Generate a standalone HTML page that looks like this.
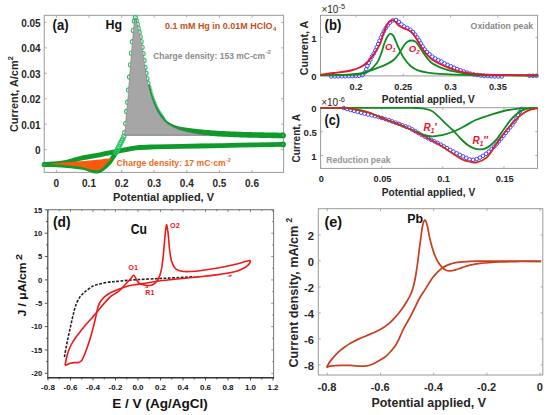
<!DOCTYPE html>
<html><head><meta charset="utf-8"><title>Figure</title>
<style>
html,body{margin:0;padding:0;background:#fff;}
body{width:550px;height:415px;overflow:hidden;font-family:"Liberation Sans",sans-serif;}
svg{display:block;}
</style></head><body>
<svg width="550" height="415" viewBox="0 0 550 415">
<rect x="0" y="0" width="550" height="415" fill="#fff"/>
<rect x="44.2" y="15.3" width="239.4" height="157.1" fill="none" stroke="#999" stroke-width="1"/>
<line x1="56.4" y1="172.4" x2="56.4" y2="170" stroke="#999" stroke-width="0.8" />
<line x1="56.4" y1="15.3" x2="56.4" y2="17.7" stroke="#999" stroke-width="0.8" />
<line x1="89" y1="172.4" x2="89" y2="170" stroke="#999" stroke-width="0.8" />
<line x1="89" y1="15.3" x2="89" y2="17.7" stroke="#999" stroke-width="0.8" />
<line x1="121.6" y1="172.4" x2="121.6" y2="170" stroke="#999" stroke-width="0.8" />
<line x1="121.6" y1="15.3" x2="121.6" y2="17.7" stroke="#999" stroke-width="0.8" />
<line x1="154.2" y1="172.4" x2="154.2" y2="170" stroke="#999" stroke-width="0.8" />
<line x1="154.2" y1="15.3" x2="154.2" y2="17.7" stroke="#999" stroke-width="0.8" />
<line x1="186.8" y1="172.4" x2="186.8" y2="170" stroke="#999" stroke-width="0.8" />
<line x1="186.8" y1="15.3" x2="186.8" y2="17.7" stroke="#999" stroke-width="0.8" />
<line x1="219.4" y1="172.4" x2="219.4" y2="170" stroke="#999" stroke-width="0.8" />
<line x1="219.4" y1="15.3" x2="219.4" y2="17.7" stroke="#999" stroke-width="0.8" />
<line x1="252" y1="172.4" x2="252" y2="170" stroke="#999" stroke-width="0.8" />
<line x1="252" y1="15.3" x2="252" y2="17.7" stroke="#999" stroke-width="0.8" />
<line x1="44.2" y1="149.6" x2="46.6" y2="149.6" stroke="#999" stroke-width="0.8" />
<line x1="283.6" y1="149.6" x2="281.2" y2="149.6" stroke="#999" stroke-width="0.8" />
<line x1="44.2" y1="124.16" x2="46.6" y2="124.16" stroke="#999" stroke-width="0.8" />
<line x1="283.6" y1="124.16" x2="281.2" y2="124.16" stroke="#999" stroke-width="0.8" />
<line x1="44.2" y1="98.72" x2="46.6" y2="98.72" stroke="#999" stroke-width="0.8" />
<line x1="283.6" y1="98.72" x2="281.2" y2="98.72" stroke="#999" stroke-width="0.8" />
<line x1="44.2" y1="73.28" x2="46.6" y2="73.28" stroke="#999" stroke-width="0.8" />
<line x1="283.6" y1="73.28" x2="281.2" y2="73.28" stroke="#999" stroke-width="0.8" />
<line x1="44.2" y1="47.84" x2="46.6" y2="47.84" stroke="#999" stroke-width="0.8" />
<line x1="283.6" y1="47.84" x2="281.2" y2="47.84" stroke="#999" stroke-width="0.8" />
<line x1="44.2" y1="22.4" x2="46.6" y2="22.4" stroke="#999" stroke-width="0.8" />
<line x1="283.6" y1="22.4" x2="281.2" y2="22.4" stroke="#999" stroke-width="0.8" />
<rect x="320.5" y="15.3" width="217.1" height="60.6" fill="none" stroke="#999" stroke-width="1"/>
<line x1="356" y1="75.9" x2="356" y2="73.7" stroke="#999" stroke-width="0.8" />
<line x1="356" y1="15.3" x2="356" y2="17.5" stroke="#999" stroke-width="0.8" />
<line x1="403.3" y1="75.9" x2="403.3" y2="73.7" stroke="#999" stroke-width="0.8" />
<line x1="403.3" y1="15.3" x2="403.3" y2="17.5" stroke="#999" stroke-width="0.8" />
<line x1="450.6" y1="75.9" x2="450.6" y2="73.7" stroke="#999" stroke-width="0.8" />
<line x1="450.6" y1="15.3" x2="450.6" y2="17.5" stroke="#999" stroke-width="0.8" />
<line x1="497.9" y1="75.9" x2="497.9" y2="73.7" stroke="#999" stroke-width="0.8" />
<line x1="497.9" y1="15.3" x2="497.9" y2="17.5" stroke="#999" stroke-width="0.8" />
<line x1="320.5" y1="75.5" x2="322.7" y2="75.5" stroke="#999" stroke-width="0.8" />
<line x1="537.6" y1="75.5" x2="535.4" y2="75.5" stroke="#999" stroke-width="0.8" />
<line x1="320.5" y1="37.4" x2="322.7" y2="37.4" stroke="#999" stroke-width="0.8" />
<line x1="537.6" y1="37.4" x2="535.4" y2="37.4" stroke="#999" stroke-width="0.8" />
<rect x="320.6" y="107.7" width="216.9" height="60.7" fill="none" stroke="#999" stroke-width="1"/>
<line x1="320.6" y1="168.4" x2="320.6" y2="166.2" stroke="#999" stroke-width="0.8" />
<line x1="320.6" y1="107.7" x2="320.6" y2="109.9" stroke="#999" stroke-width="0.8" />
<line x1="381.7" y1="168.4" x2="381.7" y2="166.2" stroke="#999" stroke-width="0.8" />
<line x1="381.7" y1="107.7" x2="381.7" y2="109.9" stroke="#999" stroke-width="0.8" />
<line x1="442.8" y1="168.4" x2="442.8" y2="166.2" stroke="#999" stroke-width="0.8" />
<line x1="442.8" y1="107.7" x2="442.8" y2="109.9" stroke="#999" stroke-width="0.8" />
<line x1="503.9" y1="168.4" x2="503.9" y2="166.2" stroke="#999" stroke-width="0.8" />
<line x1="503.9" y1="107.7" x2="503.9" y2="109.9" stroke="#999" stroke-width="0.8" />
<line x1="320.6" y1="107.7" x2="322.8" y2="107.7" stroke="#999" stroke-width="0.8" />
<line x1="537.5" y1="107.7" x2="535.3" y2="107.7" stroke="#999" stroke-width="0.8" />
<line x1="320.6" y1="131.6" x2="322.8" y2="131.6" stroke="#999" stroke-width="0.8" />
<line x1="537.5" y1="131.6" x2="535.3" y2="131.6" stroke="#999" stroke-width="0.8" />
<line x1="320.6" y1="155.5" x2="322.8" y2="155.5" stroke="#999" stroke-width="0.8" />
<line x1="537.5" y1="155.5" x2="535.3" y2="155.5" stroke="#999" stroke-width="0.8" />
<rect x="318.3" y="208.7" width="224.5" height="166.3" fill="none" stroke="#999" stroke-width="1"/>
<line x1="327.3" y1="375" x2="327.3" y2="372.6" stroke="#999" stroke-width="0.8" />
<line x1="327.3" y1="208.7" x2="327.3" y2="211.1" stroke="#999" stroke-width="0.8" />
<line x1="380.5" y1="375" x2="380.5" y2="372.6" stroke="#999" stroke-width="0.8" />
<line x1="380.5" y1="208.7" x2="380.5" y2="211.1" stroke="#999" stroke-width="0.8" />
<line x1="433.7" y1="375" x2="433.7" y2="372.6" stroke="#999" stroke-width="0.8" />
<line x1="433.7" y1="208.7" x2="433.7" y2="211.1" stroke="#999" stroke-width="0.8" />
<line x1="486.9" y1="375" x2="486.9" y2="372.6" stroke="#999" stroke-width="0.8" />
<line x1="486.9" y1="208.7" x2="486.9" y2="211.1" stroke="#999" stroke-width="0.8" />
<line x1="540.1" y1="375" x2="540.1" y2="372.6" stroke="#999" stroke-width="0.8" />
<line x1="540.1" y1="208.7" x2="540.1" y2="211.1" stroke="#999" stroke-width="0.8" />
<line x1="318.3" y1="234.9" x2="320.7" y2="234.9" stroke="#999" stroke-width="0.8" />
<line x1="542.8" y1="234.9" x2="540.4" y2="234.9" stroke="#999" stroke-width="0.8" />
<line x1="318.3" y1="260.9" x2="320.7" y2="260.9" stroke="#999" stroke-width="0.8" />
<line x1="542.8" y1="260.9" x2="540.4" y2="260.9" stroke="#999" stroke-width="0.8" />
<line x1="318.3" y1="286.9" x2="320.7" y2="286.9" stroke="#999" stroke-width="0.8" />
<line x1="542.8" y1="286.9" x2="540.4" y2="286.9" stroke="#999" stroke-width="0.8" />
<line x1="318.3" y1="312.9" x2="320.7" y2="312.9" stroke="#999" stroke-width="0.8" />
<line x1="542.8" y1="312.9" x2="540.4" y2="312.9" stroke="#999" stroke-width="0.8" />
<line x1="318.3" y1="338.9" x2="320.7" y2="338.9" stroke="#999" stroke-width="0.8" />
<line x1="542.8" y1="338.9" x2="540.4" y2="338.9" stroke="#999" stroke-width="0.8" />
<line x1="318.3" y1="364.9" x2="320.7" y2="364.9" stroke="#999" stroke-width="0.8" />
<line x1="542.8" y1="364.9" x2="540.4" y2="364.9" stroke="#999" stroke-width="0.8" />
<path d="M44.5,164.4 C45.75,164.33 49.42,164.17 52,164 C54.58,163.83 57.67,163.67 60,163.4 C62.33,163.13 63.88,162.88 66,162.4 C68.12,161.92 69.77,161.28 72.7,160.5 C75.63,159.72 79.05,158.65 83.6,157.7 C88.15,156.75 94.23,155.88 100,154.8 C105.77,153.72 112.13,152.35 118.2,151.2 C124.27,150.05 130.35,148.62 136.4,147.9 C142.45,147.18 143.9,147.22 154.5,146.9 C165.1,146.58 185.75,146.28 200,146 C214.25,145.72 226.17,145.47 240,145.2 C253.83,144.93 275.83,144.53 283,144.4" fill="none" stroke="#0f9a2c" stroke-width="4.8" stroke-linecap="round"/>
<path d="M44.5,164.6 C46.42,164.67 52.58,164.85 56,165 C59.42,165.15 61.6,165.23 65,165.5 C68.4,165.77 73.3,166.25 76.4,166.6 C79.5,166.95 81.5,167.17 83.6,167.6 C85.7,168.03 87.3,168.65 89,169.2 C90.7,169.75 92.27,170.6 93.8,170.9 C95.33,171.2 96.57,171.52 98.2,171 C99.83,170.48 101.78,169.17 103.6,167.8 C105.42,166.43 107.45,164.68 109.1,162.8 C110.75,160.92 112.22,158.5 113.5,156.5 C114.78,154.5 116.25,151.75 116.8,150.8" fill="none" stroke="#0f9a2c" stroke-width="4.6" stroke-linecap="round"/>
<circle cx="115.94" cy="152.39" r="2.1" fill="none" stroke="#2bc468" stroke-width="1.1"/>
<circle cx="116.9" cy="150.61" r="2.1" fill="none" stroke="#2bc468" stroke-width="1.1"/>
<circle cx="117.88" cy="148.63" r="2.1" fill="none" stroke="#2bc468" stroke-width="1.1"/>
<circle cx="118.84" cy="146.57" r="2.1" fill="none" stroke="#2bc468" stroke-width="1.1"/>
<circle cx="119.82" cy="144.57" r="2.1" fill="none" stroke="#2bc468" stroke-width="1.1"/>
<circle cx="120.8" cy="142.74" r="2.1" fill="none" stroke="#2bc468" stroke-width="1.1"/>
<circle cx="121.79" cy="140.85" r="2.1" fill="none" stroke="#2bc468" stroke-width="1.1"/>
<circle cx="122.77" cy="138.78" r="2.1" fill="none" stroke="#2bc468" stroke-width="1.1"/>
<circle cx="123.75" cy="136.47" r="2.1" fill="none" stroke="#2bc468" stroke-width="1.1"/>
<circle cx="124.71" cy="132.63" r="2.1" fill="none" stroke="#2bc468" stroke-width="1.1"/>
<circle cx="125.67" cy="123.54" r="2.1" fill="none" stroke="#2bc468" stroke-width="1.1"/>
<circle cx="126.64" cy="111.51" r="2.1" fill="none" stroke="#2bc468" stroke-width="1.1"/>
<circle cx="127.6" cy="102.27" r="2.1" fill="none" stroke="#2bc468" stroke-width="1.1"/>
<circle cx="128.57" cy="89.97" r="2.1" fill="none" stroke="#2bc468" stroke-width="1.1"/>
<circle cx="129.54" cy="76.98" r="2.1" fill="none" stroke="#2bc468" stroke-width="1.1"/>
<circle cx="130.5" cy="64.86" r="2.1" fill="none" stroke="#2bc468" stroke-width="1.1"/>
<circle cx="131.46" cy="53.17" r="2.1" fill="none" stroke="#2bc468" stroke-width="1.1"/>
<circle cx="132.42" cy="41.72" r="2.1" fill="none" stroke="#2bc468" stroke-width="1.1"/>
<circle cx="133.37" cy="30.42" r="2.1" fill="none" stroke="#2bc468" stroke-width="1.1"/>
<circle cx="134.34" cy="21.12" r="2.1" fill="none" stroke="#2bc468" stroke-width="1.1"/>
<circle cx="135.29" cy="17.72" r="2.1" fill="none" stroke="#2bc468" stroke-width="1.1"/>
<circle cx="136.27" cy="20.67" r="2.1" fill="none" stroke="#2bc468" stroke-width="1.1"/>
<circle cx="137.25" cy="24.3" r="2.1" fill="none" stroke="#2bc468" stroke-width="1.1"/>
<circle cx="138.23" cy="28.38" r="2.1" fill="none" stroke="#2bc468" stroke-width="1.1"/>
<circle cx="139.18" cy="32.5" r="2.1" fill="none" stroke="#2bc468" stroke-width="1.1"/>
<circle cx="140.16" cy="36.83" r="2.1" fill="none" stroke="#2bc468" stroke-width="1.1"/>
<circle cx="141.12" cy="41.63" r="2.1" fill="none" stroke="#2bc468" stroke-width="1.1"/>
<circle cx="142.09" cy="47.28" r="2.1" fill="none" stroke="#2bc468" stroke-width="1.1"/>
<circle cx="143.08" cy="53.55" r="2.1" fill="none" stroke="#2bc468" stroke-width="1.1"/>
<circle cx="144.05" cy="60.43" r="2.1" fill="none" stroke="#2bc468" stroke-width="1.1"/>
<circle cx="145.01" cy="67.49" r="2.1" fill="none" stroke="#2bc468" stroke-width="1.1"/>
<circle cx="145.96" cy="73.27" r="2.1" fill="none" stroke="#2bc468" stroke-width="1.1"/>
<circle cx="146.93" cy="78.57" r="2.1" fill="none" stroke="#2bc468" stroke-width="1.1"/>
<circle cx="147.91" cy="83.3" r="2.1" fill="none" stroke="#2bc468" stroke-width="1.1"/>
<circle cx="148.88" cy="87.42" r="2.1" fill="none" stroke="#2bc468" stroke-width="1.1"/>
<circle cx="149.87" cy="91.27" r="2.1" fill="none" stroke="#2bc468" stroke-width="1.1"/>
<circle cx="150.86" cy="94.79" r="2.1" fill="none" stroke="#2bc468" stroke-width="1.1"/>
<circle cx="151.84" cy="97.92" r="2.1" fill="none" stroke="#2bc468" stroke-width="1.1"/>
<circle cx="152.86" cy="100.88" r="2.1" fill="none" stroke="#2bc468" stroke-width="1.1"/>
<circle cx="153.84" cy="103.51" r="2.1" fill="none" stroke="#2bc468" stroke-width="1.1"/>
<circle cx="154.87" cy="106.01" r="2.1" fill="none" stroke="#2bc468" stroke-width="1.1"/>
<circle cx="155.86" cy="108.22" r="2.1" fill="none" stroke="#2bc468" stroke-width="1.1"/>
<circle cx="156.82" cy="110.16" r="2.1" fill="none" stroke="#2bc468" stroke-width="1.1"/>
<circle cx="157.79" cy="111.89" r="2.1" fill="none" stroke="#2bc468" stroke-width="1.1"/>
<circle cx="158.79" cy="113.49" r="2.1" fill="none" stroke="#2bc468" stroke-width="1.1"/>
<circle cx="159.84" cy="115.05" r="2.1" fill="none" stroke="#2bc468" stroke-width="1.1"/>
<circle cx="160.86" cy="116.51" r="2.1" fill="none" stroke="#2bc468" stroke-width="1.1"/>
<circle cx="161.89" cy="117.94" r="2.1" fill="none" stroke="#2bc468" stroke-width="1.1"/>
<circle cx="162.89" cy="119.34" r="2.1" fill="none" stroke="#2bc468" stroke-width="1.1"/>
<path d="M147.14,85.32 L147.28,85.81 L147.43,86.4 L147.62,87.1 L147.82,87.88 L148.04,88.73 L148.28,89.64 L148.53,90.6 L148.79,91.59 L149.05,92.61 L149.32,93.64 L149.59,94.67 L149.87,95.69 L150.15,96.69 L150.42,97.65 L150.7,98.56 L150.97,99.42 L151.23,100.22 L151.5,101.02 L151.77,101.81 L152.04,102.58 L152.32,103.35 L152.6,104.11 L152.88,104.86 L153.17,105.6 L153.46,106.33 L153.76,107.06 L154.06,107.77 L154.37,108.47 L154.68,109.17 L155,109.86 L155.33,110.54 L155.65,111.21 L155.99,111.87 L156.33,112.52 L156.68,113.17 L157.03,113.8 L157.38,114.43 L157.75,115.05 L158.11,115.67 L158.49,116.27 L158.86,116.86 L159.25,117.44 L159.64,118.01 L160.03,118.57 L160.43,119.12 L160.83,119.65 L161.24,120.18 L161.65,120.68 L162.06,121.17 L162.47,121.64 L162.88,122.1 L163.29,122.54 L163.71,122.98 L164.14,123.4 L164.57,123.81 L165.01,124.21 L165.45,124.6 L165.91,124.98 L166.38,125.35 L166.87,125.72 L167.36,126.08 L167.87,126.43 L168.4,126.78 L168.94,127.13 L169.49,127.47 L170.05,127.8 L170.61,128.13 L171.19,128.45 L171.78,128.76 L172.38,129.07 L172.99,129.37 L173.62,129.67 L174.27,129.95 L174.93,130.24 L175.62,130.51 L176.32,130.78 L177.05,131.04 L177.8,131.3 L178.57,131.55 L179.37,131.79 L180.2,132.03 L181.05,132.26 L181.91,132.47 L182.79,132.68 L183.68,132.88 L184.59,133.07 L185.53,133.22 L186.48,133.36 L187.44,133.49 L188.43,133.63 L189.43,133.75 L190.44,133.88 L191.47,134 L192.52,134.13 L193.59,134.25 L194.68,134.38 L195.79,134.51 L196.92,134.64 L198.07,134.76 L199.24,134.88 L200.43,135.01 L201.64,135.12 L202.87,135.24 L204.12,135.36 L205.39,135.47 L206.68,135.58 L207.99,135.69 L209.31,135.8 L210.66,135.9 L212.02,136 L213.41,136.1 L214.81,136.19 L216.25,136.29 L217.72,136.38 L219.22,136.47 L220.74,136.55 L222.3,136.64 L223.87,136.72 L225.46,136.8 L227.06,136.87 L228.67,136.95 L230.28,137.02 L231.9,137.09 L233.52,137.15 L235.13,137.22 L236.73,137.28 L238.32,137.34 L239.9,137.4 L241.48,137.45 L243.09,137.5 L244.71,137.55 L246.34,137.6 L247.98,137.64 L249.62,137.68 L251.25,137.72 L252.88,137.76 L254.49,137.79 L256.08,137.82 L257.65,137.85 L259.19,137.88 L260.69,137.91 L262.15,137.94 L263.57,137.97 L264.94,138 L266.29,138.03 L267.65,138.05 L269.01,138.08 L270.37,138.1 L271.7,138.13 L273.01,138.15 L274.28,138.17 L275.52,138.19 L276.71,138.21 L277.83,138.22 L278.9,138.24 L279.89,138.25 L280.8,138.27 L281.62,138.28 L282.34,138.29 L282.95,138.3 L283.05,132.7 L282.43,132.69 L281.7,132.68 L280.88,132.67 L279.97,132.65 L278.98,132.64 L277.92,132.62 L276.79,132.61 L275.61,132.59 L274.37,132.57 L273.1,132.55 L271.79,132.53 L270.46,132.5 L269.12,132.48 L267.76,132.45 L266.41,132.43 L265.06,132.4 L263.69,132.37 L262.27,132.34 L260.8,132.32 L259.3,132.29 L257.76,132.26 L256.19,132.22 L254.61,132.19 L253,132.16 L251.38,132.12 L249.75,132.08 L248.12,132.04 L246.49,132 L244.87,131.96 L243.26,131.91 L241.67,131.86 L240.1,131.8 L238.53,131.74 L236.95,131.68 L235.35,131.62 L233.75,131.56 L232.14,131.49 L230.53,131.42 L228.92,131.35 L227.32,131.28 L225.73,131.2 L224.15,131.12 L222.59,131.04 L221.05,130.96 L219.54,130.88 L218.05,130.79 L216.6,130.7 L215.19,130.61 L213.8,130.51 L212.43,130.41 L211.08,130.31 L209.75,130.21 L208.44,130.11 L207.15,130 L205.88,129.89 L204.63,129.78 L203.4,129.67 L202.18,129.55 L200.99,129.43 L199.82,129.31 L198.67,129.19 L197.53,129.07 L196.42,128.95 L195.32,128.82 L194.24,128.69 L193.18,128.57 L192.14,128.44 L191.12,128.32 L190.13,128.2 L189.15,128.07 L188.2,127.95 L187.27,127.82 L186.37,127.68 L185.48,127.54 L184.62,127.44 L183.78,127.33 L182.95,127.21 L182.16,127.09 L181.38,126.95 L180.63,126.81 L179.89,126.65 L179.18,126.49 L178.5,126.32 L177.83,126.14 L177.19,125.96 L176.57,125.77 L175.97,125.57 L175.38,125.37 L174.8,125.16 L174.24,124.94 L173.7,124.72 L173.16,124.48 L172.62,124.24 L172.1,123.99 L171.57,123.73 L171.06,123.47 L170.56,123.2 L170.08,122.93 L169.61,122.66 L169.16,122.39 L168.73,122.11 L168.31,121.82 L167.9,121.52 L167.49,121.22 L167.1,120.91 L166.7,120.58 L166.31,120.24 L165.92,119.89 L165.53,119.52 L165.14,119.14 L164.75,118.74 L164.35,118.32 L163.95,117.88 L163.56,117.44 L163.17,116.97 L162.77,116.5 L162.39,116 L162,115.5 L161.62,114.98 L161.24,114.44 L160.86,113.9 L160.49,113.34 L160.12,112.78 L159.76,112.2 L159.4,111.61 L159.04,111.01 L158.69,110.41 L158.35,109.79 L158.01,109.17 L157.67,108.54 L157.34,107.9 L157.02,107.24 L156.7,106.58 L156.38,105.91 L156.07,105.22 L155.77,104.53 L155.46,103.82 L155.16,103.1 L154.87,102.37 L154.57,101.64 L154.28,100.89 L154,100.13 L153.71,99.36 L153.43,98.58 L153.15,97.77 L152.86,96.9 L152.57,95.97 L152.27,95 L151.97,94.01 L151.68,92.99 L151.39,91.98 L151.11,90.97 L150.85,89.98 L150.6,89.03 L150.36,88.12 L150.14,87.27 L149.94,86.49 L149.76,85.79 L149.59,85.18 L149.46,84.68Z" fill="#0f9a2c" stroke="none" stroke-width="1" />
<path d="M124.2,135 L124.24,134.77 L124.29,134.5 L124.34,134.21 L124.4,133.88 L124.47,133.53 L124.54,133.15 L124.61,132.74 L124.69,132.31 L124.77,131.85 L124.85,131.37 L124.93,130.87 L125.01,130.34 L125.08,129.78 L125.16,129.21 L125.23,128.62 L125.3,128 L125.36,127.36 L125.43,126.68 L125.49,125.96 L125.55,125.22 L125.6,124.45 L125.66,123.65 L125.72,122.84 L125.77,122 L125.83,121.15 L125.89,120.29 L125.95,119.41 L126.02,118.53 L126.08,117.65 L126.15,116.76 L126.22,115.88 L126.3,115 L126.38,114.13 L126.46,113.25 L126.55,112.38 L126.64,111.51 L126.73,110.63 L126.83,109.74 L126.92,108.85 L127.02,107.94 L127.12,107.02 L127.22,106.08 L127.31,105.12 L127.41,104.15 L127.51,103.15 L127.61,102.13 L127.71,101.08 L127.8,100 L127.89,98.89 L127.99,97.74 L128.08,96.56 L128.17,95.35 L128.27,94.12 L128.36,92.87 L128.45,91.6 L128.54,90.31 L128.64,89.02 L128.73,87.72 L128.82,86.42 L128.92,85.12 L129.01,83.82 L129.11,82.53 L129.2,81.26 L129.3,80 L129.4,78.75 L129.5,77.49 L129.6,76.22 L129.7,74.95 L129.8,73.68 L129.9,72.41 L130,71.14 L130.1,69.88 L130.2,68.61 L130.3,67.35 L130.4,66.1 L130.5,64.86 L130.6,63.63 L130.7,62.4 L130.8,61.2 L130.9,60 L131,58.82 L131.09,57.64 L131.19,56.47 L131.28,55.31 L131.38,54.16 L131.47,53.02 L131.57,51.88 L131.66,50.75 L131.76,49.63 L131.85,48.52 L131.94,47.41 L132.03,46.31 L132.13,45.22 L132.22,44.14 L132.31,43.07 L132.4,42 L132.49,40.93 L132.58,39.85 L132.67,38.76 L132.76,37.68 L132.85,36.59 L132.94,35.51 L133.03,34.44 L133.12,33.39 L133.21,32.35 L133.29,31.34 L133.38,30.36 L133.47,29.4 L133.55,28.49 L133.64,27.61 L133.72,26.78 L133.8,26 L133.88,25.25 L133.96,24.52 L134.03,23.81 L134.11,23.12 L134.18,22.46 L134.25,21.83 L134.32,21.23 L134.39,20.67 L134.47,20.14 L134.54,19.66 L134.61,19.22 L134.68,18.83 L134.76,18.49 L134.84,18.2 L134.92,17.97 L135,17.8 L135.08,17.7 L135.17,17.66 L135.25,17.69 L135.34,17.78 L135.43,17.92 L135.51,18.1 L135.6,18.34 L135.69,18.61 L135.79,18.91 L135.88,19.24 L135.98,19.59 L136.08,19.96 L136.18,20.34 L136.28,20.73 L136.39,21.12 L136.5,21.5 L136.61,21.89 L136.73,22.32 L136.85,22.76 L136.98,23.23 L137.1,23.72 L137.23,24.23 L137.36,24.75 L137.49,25.29 L137.63,25.85 L137.76,26.42 L137.9,27 L138.04,27.59 L138.18,28.18 L138.32,28.79 L138.46,29.39 L138.6,30 L138.74,30.61 L138.89,31.23 L139.03,31.86 L139.18,32.5 L139.33,33.15 L139.48,33.81 L139.63,34.48 L139.79,35.16 L139.94,35.85 L140.09,36.55 L140.25,37.26 L140.4,37.98 L140.55,38.72 L140.7,39.46 L140.85,40.23 L141,41 L141.15,41.79 L141.29,42.6 L141.44,43.43 L141.59,44.27 L141.73,45.12 L141.88,45.99 L142.02,46.86 L142.17,47.75 L142.31,48.64 L142.46,49.54 L142.6,50.45 L142.74,51.36 L142.88,52.27 L143.02,53.18 L143.16,54.09 L143.3,55 L143.44,55.91 L143.57,56.83 L143.69,57.75 L143.82,58.68 L143.94,59.61 L144.07,60.55 L144.19,61.49 L144.31,62.44 L144.44,63.38 L144.56,64.33 L144.69,65.28 L144.82,66.23 L144.96,67.17 L145.1,68.12 L145.25,69.06 L145.4,70 L145.56,70.94 L145.72,71.88 L145.88,72.83 L146.05,73.77 L146.21,74.72 L146.38,75.67 L146.56,76.62 L146.74,77.56 L146.92,78.51 L147.1,79.45 L147.29,80.39 L147.49,81.32 L147.68,82.25 L147.88,83.17 L148.09,84.09 L148.3,85 L148.51,85.91 L148.73,86.81 L148.96,87.72 L149.18,88.63 L149.41,89.53 L149.65,90.43 L149.89,91.33 L150.13,92.22 L150.38,93.1 L150.63,93.98 L150.88,94.84 L151.14,95.7 L151.4,96.54 L151.66,97.38 L151.93,98.2 L152.2,99 L152.47,99.79 L152.75,100.57 L153.03,101.35 L153.31,102.11 L153.59,102.86 L153.88,103.61 L154.17,104.34 L154.47,105.06 L154.77,105.78 L155.07,106.48 L155.38,107.17 L155.69,107.86 L156.01,108.53 L156.34,109.2 L156.67,109.85 L157,110.5 L157.34,111.14 L157.69,111.77 L158.04,112.39 L158.39,113 L158.75,113.6 L159.12,114.2 L159.49,114.78 L159.86,115.36 L160.24,115.92 L160.62,116.47 L161.01,117.01 L161.4,117.53 L161.8,118.05 L162.19,118.55 L162.6,119.03 L163,119.5 L163.4,119.95 L163.81,120.39 L164.21,120.81 L164.61,121.22 L165.01,121.61 L165.42,121.99 L165.83,122.36 L166.25,122.71 L166.68,123.06 L167.11,123.4 L167.56,123.73 L168.02,124.05 L168.49,124.37 L168.97,124.68 L169.48,124.99 L170,125.3 L170.53,125.6 L171.07,125.9 L171.62,126.19 L172.17,126.48 L172.74,126.8 L173.31,127.11 L173.9,127.41 L174.5,127.71 L175.12,128 L175.75,128.29 L176.41,128.57 L177.08,128.85 L177.77,129.12 L178.49,129.39 L179.23,129.65 L180,129.91 L180.79,130.16 L181.6,130.41 L182.43,130.64 L183.28,130.87 L184.15,131.09 L185.04,131.3 L185.95,131.52 L186.88,131.72 L187.82,131.93 L188.79,132.13 L189.78,132.33 L190.78,132.53 L191.81,132.74 L192.85,132.94 L193.92,133.15 L195,133.36 L196.1,133.57 L197.23,133.78 L198.37,133.99 L199.53,134.2 L200.71,134.41 L201.91,134.62 L203.13,134.83 L204.38,135.04 L205.63,135.25 L206.91,135.3 L124.2,135.3Z" fill="#a6a6a6" stroke="#6a6a6a" stroke-width="0.5" />
<line x1="124.2" y1="135.3" x2="206.91" y2="135.3" stroke="#8a8a8a" stroke-width="0.8" />
<path d="M50,164.2 C48.4,163.88 53.07,163.65 56.4,163.3 C59.73,162.95 65.23,162.5 70,162.1 C74.77,161.7 80,161.33 85,160.9 C90,160.47 95.67,159.87 100,159.5 C104.33,159.13 109.75,158.18 111,158.7 C112.25,159.22 108.67,161.28 107.5,162.6 C106.33,163.92 105.25,165.43 104,166.6 C102.75,167.77 101.2,168.97 100,169.6 C98.8,170.23 98.47,170.42 96.8,170.4 C95.13,170.38 92.2,169.98 90,169.5 C87.8,169.02 85.87,168.03 83.6,167.5 C81.33,166.97 79.33,166.68 76.4,166.3 C73.47,165.92 70.4,165.55 66,165.2 C61.6,164.85 51.6,164.52 50,164.2Z" fill="#fb5a0c" stroke="none" stroke-width="1" />
<text x="40.6" y="154.1" font-family="Liberation Sans, sans-serif" font-size="10" font-weight="bold" font-style="normal" fill="#262626" text-anchor="end" >0</text>
<text x="40.6" y="128.66" font-family="Liberation Sans, sans-serif" font-size="10" font-weight="bold" font-style="normal" fill="#262626" text-anchor="end" >0.01</text>
<text x="40.6" y="103.22" font-family="Liberation Sans, sans-serif" font-size="10" font-weight="bold" font-style="normal" fill="#262626" text-anchor="end" >0.02</text>
<text x="40.6" y="77.78" font-family="Liberation Sans, sans-serif" font-size="10" font-weight="bold" font-style="normal" fill="#262626" text-anchor="end" >0.03</text>
<text x="40.6" y="52.34" font-family="Liberation Sans, sans-serif" font-size="10" font-weight="bold" font-style="normal" fill="#262626" text-anchor="end" >0.04</text>
<text x="40.6" y="26.9" font-family="Liberation Sans, sans-serif" font-size="10" font-weight="bold" font-style="normal" fill="#262626" text-anchor="end" >0.05</text>
<text x="56.4" y="186.5" font-family="Liberation Sans, sans-serif" font-size="10" font-weight="bold" font-style="normal" fill="#262626" text-anchor="middle" >0</text>
<text x="89" y="186.5" font-family="Liberation Sans, sans-serif" font-size="10" font-weight="bold" font-style="normal" fill="#262626" text-anchor="middle" >0.1</text>
<text x="121.6" y="186.5" font-family="Liberation Sans, sans-serif" font-size="10" font-weight="bold" font-style="normal" fill="#262626" text-anchor="middle" >0.2</text>
<text x="154.2" y="186.5" font-family="Liberation Sans, sans-serif" font-size="10" font-weight="bold" font-style="normal" fill="#262626" text-anchor="middle" >0.3</text>
<text x="186.8" y="186.5" font-family="Liberation Sans, sans-serif" font-size="10" font-weight="bold" font-style="normal" fill="#262626" text-anchor="middle" >0.4</text>
<text x="219.4" y="186.5" font-family="Liberation Sans, sans-serif" font-size="10" font-weight="bold" font-style="normal" fill="#262626" text-anchor="middle" >0.5</text>
<text x="252" y="186.5" font-family="Liberation Sans, sans-serif" font-size="10" font-weight="bold" font-style="normal" fill="#262626" text-anchor="middle" >0.6</text>
<text x="113" y="200.9" font-family="Liberation Sans, sans-serif" font-size="10.5" font-weight="bold" font-style="normal" fill="#262626" text-anchor="start" textLength="101" lengthAdjust="spacingAndGlyphs" >Potential applied, V</text>
<text x="0" y="0" transform="translate(17.7 132) rotate(-90)" font-family="Liberation Sans, sans-serif" font-size="11" font-weight="bold" fill="#262626" textLength="76" lengthAdjust="spacingAndGlyphs">Current, A/cm<tspan font-size="8" dy="-4.5">2</tspan></text>
<circle cx="283" cy="135.4" r="2.9" fill="#0f9a2c" stroke="none" stroke-width="1"/>
<circle cx="283" cy="144.4" r="2.9" fill="#0f9a2c" stroke="none" stroke-width="1"/>
<circle cx="44.3" cy="164.5" r="2.6" fill="#0f9a2c" stroke="none" stroke-width="1"/>
<circle cx="283" cy="135.4" r="1.1" fill="#27b860" stroke="none" stroke-width="1"/>
<circle cx="283" cy="144.4" r="1.1" fill="#27b860" stroke="none" stroke-width="1"/>
<circle cx="44.3" cy="164.5" r="1" fill="#27b860" stroke="none" stroke-width="1"/>
<text x="52.6" y="29.8" font-family="Liberation Sans, sans-serif" font-size="14.5" font-weight="bold" font-style="normal" fill="#111" text-anchor="start" textLength="16" lengthAdjust="spacingAndGlyphs" >(a)</text>
<text x="105.6" y="28.6" font-family="Liberation Sans, sans-serif" font-size="13.4" font-weight="bold" font-style="normal" fill="#111" text-anchor="start" textLength="16.6" lengthAdjust="spacingAndGlyphs" >Hg</text>
<text x="165" y="28.7" font-family="Liberation Sans, sans-serif" font-size="8.6" font-weight="bold" font-style="normal" fill="#c4501a" text-anchor="start" textLength="107.6" lengthAdjust="spacingAndGlyphs" >0.1 mM Hg in 0.01M HClO</text>
<text x="272.9" y="30.6" font-family="Liberation Sans, sans-serif" font-size="6" font-weight="bold" font-style="normal" fill="#c4501a" text-anchor="start" textLength="3.4" lengthAdjust="spacingAndGlyphs" >4</text>
<text x="153.2" y="58.7" font-family="Liberation Sans, sans-serif" font-size="9.2" font-weight="bold" font-style="normal" fill="#8c8c8c" text-anchor="start" textLength="111.8" lengthAdjust="spacingAndGlyphs" >Charge density: 153 mC-cm</text>
<text x="265.6" y="54.2" font-family="Liberation Sans, sans-serif" font-size="5.6" font-weight="bold" font-style="normal" fill="#8c8c8c" text-anchor="start" textLength="5.4" lengthAdjust="spacingAndGlyphs" >-2</text>
<text x="116.6" y="166.2" font-family="Liberation Sans, sans-serif" font-size="9.2" font-weight="bold" font-style="normal" fill="#f26a22" text-anchor="start" textLength="109.2" lengthAdjust="spacingAndGlyphs" >Charge density: 17 mC&#183;cm</text>
<text x="226.2" y="161.8" font-family="Liberation Sans, sans-serif" font-size="5.6" font-weight="bold" font-style="normal" fill="#f26a22" text-anchor="start" textLength="4.6" lengthAdjust="spacingAndGlyphs" >-2</text>
<circle cx="331.2" cy="76.4" r="1.8" fill="none" stroke="#4444ff" stroke-width="1.0"/>
<circle cx="334.7" cy="76.39" r="1.8" fill="none" stroke="#4444ff" stroke-width="1.0"/>
<circle cx="338.2" cy="76.37" r="1.8" fill="none" stroke="#4444ff" stroke-width="1.0"/>
<circle cx="341.7" cy="76.34" r="1.8" fill="none" stroke="#4444ff" stroke-width="1.0"/>
<circle cx="345.2" cy="76.3" r="1.8" fill="none" stroke="#4444ff" stroke-width="1.0"/>
<circle cx="348.7" cy="76.22" r="1.8" fill="none" stroke="#4444ff" stroke-width="1.0"/>
<circle cx="352.2" cy="76.13" r="1.8" fill="none" stroke="#4444ff" stroke-width="1.0"/>
<circle cx="355.7" cy="76.01" r="1.8" fill="none" stroke="#4444ff" stroke-width="1.0"/>
<circle cx="359.19" cy="75.84" r="1.8" fill="none" stroke="#4444ff" stroke-width="1.0"/>
<circle cx="362.53" cy="75.11" r="1.8" fill="none" stroke="#4444ff" stroke-width="1.0"/>
<circle cx="364.72" cy="72.4" r="1.8" fill="none" stroke="#4444ff" stroke-width="1.0"/>
<circle cx="366.25" cy="69.26" r="1.8" fill="none" stroke="#4444ff" stroke-width="1.0"/>
<circle cx="367.43" cy="65.97" r="1.8" fill="none" stroke="#4444ff" stroke-width="1.0"/>
<circle cx="368.87" cy="62.78" r="1.8" fill="none" stroke="#4444ff" stroke-width="1.0"/>
<circle cx="370.38" cy="59.62" r="1.8" fill="none" stroke="#4444ff" stroke-width="1.0"/>
<circle cx="372.03" cy="56.53" r="1.8" fill="none" stroke="#4444ff" stroke-width="1.0"/>
<circle cx="373.77" cy="53.5" r="1.8" fill="none" stroke="#4444ff" stroke-width="1.0"/>
<circle cx="375.35" cy="50.38" r="1.8" fill="none" stroke="#4444ff" stroke-width="1.0"/>
<circle cx="376.83" cy="47.21" r="1.8" fill="none" stroke="#4444ff" stroke-width="1.0"/>
<circle cx="378.24" cy="44" r="1.8" fill="none" stroke="#4444ff" stroke-width="1.0"/>
<circle cx="379.56" cy="40.76" r="1.8" fill="none" stroke="#4444ff" stroke-width="1.0"/>
<circle cx="380.92" cy="37.54" r="1.8" fill="none" stroke="#4444ff" stroke-width="1.0"/>
<circle cx="382.35" cy="34.34" r="1.8" fill="none" stroke="#4444ff" stroke-width="1.0"/>
<circle cx="383.92" cy="31.21" r="1.8" fill="none" stroke="#4444ff" stroke-width="1.0"/>
<circle cx="385.71" cy="28.21" r="1.8" fill="none" stroke="#4444ff" stroke-width="1.0"/>
<circle cx="387.67" cy="25.3" r="1.8" fill="none" stroke="#4444ff" stroke-width="1.0"/>
<circle cx="389.88" cy="22.6" r="1.8" fill="none" stroke="#4444ff" stroke-width="1.0"/>
<circle cx="392.62" cy="20.44" r="1.8" fill="none" stroke="#4444ff" stroke-width="1.0"/>
<circle cx="395.97" cy="19.95" r="1.8" fill="none" stroke="#4444ff" stroke-width="1.0"/>
<circle cx="398.9" cy="21.84" r="1.8" fill="none" stroke="#4444ff" stroke-width="1.0"/>
<circle cx="401.33" cy="24.35" r="1.8" fill="none" stroke="#4444ff" stroke-width="1.0"/>
<circle cx="404.16" cy="26.4" r="1.8" fill="none" stroke="#4444ff" stroke-width="1.0"/>
<circle cx="407.32" cy="27.91" r="1.8" fill="none" stroke="#4444ff" stroke-width="1.0"/>
<circle cx="410.33" cy="29.68" r="1.8" fill="none" stroke="#4444ff" stroke-width="1.0"/>
<circle cx="412.99" cy="31.95" r="1.8" fill="none" stroke="#4444ff" stroke-width="1.0"/>
<circle cx="415.2" cy="34.66" r="1.8" fill="none" stroke="#4444ff" stroke-width="1.0"/>
<circle cx="417.21" cy="37.52" r="1.8" fill="none" stroke="#4444ff" stroke-width="1.0"/>
<circle cx="419.15" cy="40.44" r="1.8" fill="none" stroke="#4444ff" stroke-width="1.0"/>
<circle cx="420.92" cy="43.46" r="1.8" fill="none" stroke="#4444ff" stroke-width="1.0"/>
<circle cx="422.68" cy="46.48" r="1.8" fill="none" stroke="#4444ff" stroke-width="1.0"/>
<circle cx="424.59" cy="49.41" r="1.8" fill="none" stroke="#4444ff" stroke-width="1.0"/>
<circle cx="426.9" cy="52.03" r="1.8" fill="none" stroke="#4444ff" stroke-width="1.0"/>
<circle cx="429.53" cy="54.33" r="1.8" fill="none" stroke="#4444ff" stroke-width="1.0"/>
<circle cx="432.23" cy="56.57" r="1.8" fill="none" stroke="#4444ff" stroke-width="1.0"/>
<circle cx="435.18" cy="58.44" r="1.8" fill="none" stroke="#4444ff" stroke-width="1.0"/>
<circle cx="438.3" cy="60.04" r="1.8" fill="none" stroke="#4444ff" stroke-width="1.0"/>
<circle cx="441.43" cy="61.59" r="1.8" fill="none" stroke="#4444ff" stroke-width="1.0"/>
<circle cx="444.45" cy="63.36" r="1.8" fill="none" stroke="#4444ff" stroke-width="1.0"/>
<circle cx="447.58" cy="64.93" r="1.8" fill="none" stroke="#4444ff" stroke-width="1.0"/>
<circle cx="450.81" cy="66.28" r="1.8" fill="none" stroke="#4444ff" stroke-width="1.0"/>
<circle cx="454.01" cy="67.69" r="1.8" fill="none" stroke="#4444ff" stroke-width="1.0"/>
<circle cx="457.22" cy="69.09" r="1.8" fill="none" stroke="#4444ff" stroke-width="1.0"/>
<circle cx="460.5" cy="70.31" r="1.8" fill="none" stroke="#4444ff" stroke-width="1.0"/>
<circle cx="463.79" cy="71.5" r="1.8" fill="none" stroke="#4444ff" stroke-width="1.0"/>
<circle cx="467.07" cy="72.7" r="1.8" fill="none" stroke="#4444ff" stroke-width="1.0"/>
<circle cx="470.43" cy="73.68" r="1.8" fill="none" stroke="#4444ff" stroke-width="1.0"/>
<circle cx="473.85" cy="74.45" r="1.8" fill="none" stroke="#4444ff" stroke-width="1.0"/>
<circle cx="477.3" cy="75.02" r="1.8" fill="none" stroke="#4444ff" stroke-width="1.0"/>
<circle cx="480.77" cy="75.51" r="1.8" fill="none" stroke="#4444ff" stroke-width="1.0"/>
<circle cx="484.24" cy="75.88" r="1.8" fill="none" stroke="#4444ff" stroke-width="1.0"/>
<circle cx="487.74" cy="76.09" r="1.8" fill="none" stroke="#4444ff" stroke-width="1.0"/>
<circle cx="491.24" cy="76.25" r="1.8" fill="none" stroke="#4444ff" stroke-width="1.0"/>
<circle cx="494.73" cy="76.39" r="1.8" fill="none" stroke="#4444ff" stroke-width="1.0"/>
<circle cx="498.23" cy="76.49" r="1.8" fill="none" stroke="#4444ff" stroke-width="1.0"/>
<circle cx="501.73" cy="76.55" r="1.8" fill="none" stroke="#4444ff" stroke-width="1.0"/>
<circle cx="529.5" cy="75.8" r="1.8" fill="none" stroke="#4444ff" stroke-width="1.0"/>
<circle cx="533" cy="75.8" r="1.8" fill="none" stroke="#4444ff" stroke-width="1.0"/>
<circle cx="536.5" cy="75.8" r="1.8" fill="none" stroke="#4444ff" stroke-width="1.0"/>
<path d="M320.5,75.2 C323.75,75.15 333.42,75.08 340,74.9 C346.58,74.72 355.27,74.67 360,74.1 C364.73,73.53 365.58,73.35 368.4,71.5 C371.22,69.65 374.8,65.92 376.9,63 C379,60.08 379.73,57.33 381,54 C382.27,50.67 383.37,46 384.5,43 C385.63,40 386.77,37.57 387.8,36 C388.83,34.43 389.7,33.52 390.7,33.6 C391.7,33.68 392.58,34.35 393.8,36.5 C395.02,38.65 396.32,42.9 398,46.5 C399.68,50.1 401.8,54.85 403.9,58.1 C406,61.35 408.25,63.95 410.6,66 C412.95,68.05 415.18,69.3 418,70.4 C420.82,71.5 423.83,72.03 427.5,72.6 C431.17,73.17 432.92,73.4 440,73.8 C447.08,74.2 460,74.73 470,75 C480,75.27 488.73,75.32 500,75.4 C511.27,75.48 531.33,75.48 537.6,75.5" fill="none" stroke="#0e8c1e" stroke-width="1.8" />
<path d="M320.5,75.3 C323.75,75.25 333.42,75.32 340,75 C346.58,74.68 353.85,74.53 360,73.4 C366.15,72.27 372.68,69.62 376.9,68.2 C381.12,66.78 382.48,66.3 385.3,64.9 C388.12,63.5 391.4,61.85 393.8,59.8 C396.2,57.75 398.02,54.97 399.7,52.6 C401.38,50.23 402.6,47.42 403.9,45.6 C405.2,43.78 406.2,42.55 407.5,41.7 C408.8,40.85 410.42,40.52 411.7,40.5 C412.98,40.48 414.22,41.02 415.2,41.6 C416.18,42.18 416.12,41.95 417.6,44 C419.08,46.05 421.88,50.85 424.1,53.9 C426.32,56.95 428.25,60.05 430.9,62.3 C433.55,64.55 436.82,66 440,67.4 C443.18,68.8 445.83,69.72 450,70.7 C454.17,71.68 458.33,72.62 465,73.3 C471.67,73.98 477.9,74.45 490,74.8 C502.1,75.15 529.67,75.3 537.6,75.4" fill="none" stroke="#0e8c1e" stroke-width="1.8" />
<path d="M320.5,74.6 C322.72,74.33 328.78,73.68 333.8,73 C338.82,72.32 346.1,71.5 350.6,70.5 C355.1,69.5 357.98,68.42 360.8,67 C363.62,65.58 365.25,64.25 367.5,62 C369.75,59.75 372.22,56.5 374.3,53.5 C376.38,50.5 378.45,47.42 380,44 C381.55,40.58 382.52,36 383.6,33 C384.68,30 385.65,27.75 386.5,26 C387.35,24.25 387.77,23.48 388.7,22.5 C389.63,21.52 390.98,20.22 392.1,20.1 C393.22,19.98 394.28,20.88 395.4,21.8 C396.52,22.72 397.38,24.5 398.8,25.6 C400.22,26.7 402.22,27.62 403.9,28.4 C405.58,29.18 407.22,29.2 408.9,30.3 C410.58,31.4 412.3,32.83 414,35 C415.7,37.17 417.42,40.58 419.1,43.3 C420.78,46.02 422.13,48.75 424.1,51.3 C426.07,53.85 428.25,56.48 430.9,58.6 C433.55,60.72 436.82,62.38 440,64 C443.18,65.62 446.22,66.95 450,68.3 C453.78,69.65 458.77,71.18 462.7,72.1 C466.63,73.02 468.13,73.32 473.6,73.8 C479.07,74.28 484.83,74.73 495.5,75 C506.17,75.27 530.58,75.33 537.6,75.4" fill="none" stroke="#e8132d" stroke-width="1.8" />
<text x="316.6" y="79.7" font-family="Liberation Sans, sans-serif" font-size="9.6" font-weight="bold" font-style="normal" fill="#262626" text-anchor="end" >0</text>
<text x="316.6" y="41.6" font-family="Liberation Sans, sans-serif" font-size="9.6" font-weight="bold" font-style="normal" fill="#262626" text-anchor="end" >1</text>
<text x="356" y="89.6" font-family="Liberation Sans, sans-serif" font-size="9.2" font-weight="bold" font-style="normal" fill="#262626" text-anchor="middle" >0.2</text>
<text x="403.3" y="89.6" font-family="Liberation Sans, sans-serif" font-size="9.2" font-weight="bold" font-style="normal" fill="#262626" text-anchor="middle" >0.25</text>
<text x="450.6" y="89.6" font-family="Liberation Sans, sans-serif" font-size="9.2" font-weight="bold" font-style="normal" fill="#262626" text-anchor="middle" >0.3</text>
<text x="497.9" y="89.6" font-family="Liberation Sans, sans-serif" font-size="9.2" font-weight="bold" font-style="normal" fill="#262626" text-anchor="middle" >0.35</text>
<text x="381.8" y="102.8" font-family="Liberation Sans, sans-serif" font-size="10" font-weight="bold" font-style="normal" fill="#262626" text-anchor="start" textLength="93" lengthAdjust="spacingAndGlyphs" >Potential applied, V</text>
<text x="0" y="0" transform="translate(308 75.2) rotate(-90)" font-family="Liberation Sans, sans-serif" font-size="10.4" font-weight="bold" fill="#262626" textLength="54.5" lengthAdjust="spacingAndGlyphs">Cuurent, A</text>
<text x="321.4" y="13" font-family="Liberation Sans, sans-serif" font-size="10.4" font-weight="normal" font-style="normal" fill="#262626" text-anchor="start" textLength="17" lengthAdjust="spacingAndGlyphs" >&#215;10</text>
<text x="338.6" y="8.6" font-family="Liberation Sans, sans-serif" font-size="7.6" font-weight="normal" font-style="normal" fill="#262626" text-anchor="start" textLength="6.6" lengthAdjust="spacingAndGlyphs" >-5</text>
<text x="324.5" y="30.1" font-family="Liberation Sans, sans-serif" font-size="14.3" font-weight="bold" font-style="normal" fill="#111" text-anchor="start" textLength="16.8" lengthAdjust="spacingAndGlyphs" >(b)</text>
<text x="470.6" y="28.5" font-family="Liberation Sans, sans-serif" font-size="9.9" font-weight="bold" font-style="normal" fill="#888" text-anchor="start" textLength="62.6" lengthAdjust="spacingAndGlyphs" >Oxidation peak</text>
<text x="384.9" y="50.2" font-family="Liberation Sans, sans-serif" font-size="9.6" font-weight="bold" font-style="italic" fill="#e8132d">O<tspan font-size="6.2" dy="2.1">1</tspan></text>
<text x="408.7" y="51.8" font-family="Liberation Sans, sans-serif" font-size="9.6" font-weight="bold" font-style="italic" fill="#e8132d">O<tspan font-size="6.2" dy="2.3">2</tspan></text>
<circle cx="343.7" cy="108" r="1.8" fill="none" stroke="#4444ff" stroke-width="1.0"/>
<circle cx="347.15" cy="109.03" r="1.8" fill="none" stroke="#4444ff" stroke-width="1.0"/>
<circle cx="350.61" cy="110.04" r="1.8" fill="none" stroke="#4444ff" stroke-width="1.0"/>
<circle cx="354.08" cy="110.98" r="1.8" fill="none" stroke="#4444ff" stroke-width="1.0"/>
<circle cx="357.57" cy="111.87" r="1.8" fill="none" stroke="#4444ff" stroke-width="1.0"/>
<circle cx="361.06" cy="112.73" r="1.8" fill="none" stroke="#4444ff" stroke-width="1.0"/>
<circle cx="364.56" cy="113.59" r="1.8" fill="none" stroke="#4444ff" stroke-width="1.0"/>
<circle cx="368.05" cy="114.45" r="1.8" fill="none" stroke="#4444ff" stroke-width="1.0"/>
<circle cx="371.56" cy="115.28" r="1.8" fill="none" stroke="#4444ff" stroke-width="1.0"/>
<circle cx="375.06" cy="116.12" r="1.8" fill="none" stroke="#4444ff" stroke-width="1.0"/>
<circle cx="378.54" cy="117.03" r="1.8" fill="none" stroke="#4444ff" stroke-width="1.0"/>
<circle cx="382" cy="118.04" r="1.8" fill="none" stroke="#4444ff" stroke-width="1.0"/>
<circle cx="385.43" cy="119.12" r="1.8" fill="none" stroke="#4444ff" stroke-width="1.0"/>
<circle cx="388.84" cy="120.26" r="1.8" fill="none" stroke="#4444ff" stroke-width="1.0"/>
<circle cx="392.25" cy="121.44" r="1.8" fill="none" stroke="#4444ff" stroke-width="1.0"/>
<circle cx="395.63" cy="122.66" r="1.8" fill="none" stroke="#4444ff" stroke-width="1.0"/>
<circle cx="399" cy="123.93" r="1.8" fill="none" stroke="#4444ff" stroke-width="1.0"/>
<circle cx="402.36" cy="125.22" r="1.8" fill="none" stroke="#4444ff" stroke-width="1.0"/>
<circle cx="405.73" cy="126.5" r="1.8" fill="none" stroke="#4444ff" stroke-width="1.0"/>
<circle cx="409.11" cy="127.59" r="1.8" fill="none" stroke="#4444ff" stroke-width="1.0"/>
<circle cx="412.24" cy="129.36" r="1.8" fill="none" stroke="#4444ff" stroke-width="1.0"/>
<circle cx="415.33" cy="131.21" r="1.8" fill="none" stroke="#4444ff" stroke-width="1.0"/>
<circle cx="418.42" cy="133.05" r="1.8" fill="none" stroke="#4444ff" stroke-width="1.0"/>
<circle cx="421.53" cy="134.87" r="1.8" fill="none" stroke="#4444ff" stroke-width="1.0"/>
<circle cx="424.68" cy="136.61" r="1.8" fill="none" stroke="#4444ff" stroke-width="1.0"/>
<circle cx="427.89" cy="138.25" r="1.8" fill="none" stroke="#4444ff" stroke-width="1.0"/>
<circle cx="431.13" cy="139.82" r="1.8" fill="none" stroke="#4444ff" stroke-width="1.0"/>
<circle cx="434.37" cy="141.38" r="1.8" fill="none" stroke="#4444ff" stroke-width="1.0"/>
<circle cx="437.6" cy="142.98" r="1.8" fill="none" stroke="#4444ff" stroke-width="1.0"/>
<circle cx="440.78" cy="144.66" r="1.8" fill="none" stroke="#4444ff" stroke-width="1.0"/>
<circle cx="443.93" cy="146.4" r="1.8" fill="none" stroke="#4444ff" stroke-width="1.0"/>
<circle cx="447.07" cy="148.16" r="1.8" fill="none" stroke="#4444ff" stroke-width="1.0"/>
<circle cx="450.22" cy="149.91" r="1.8" fill="none" stroke="#4444ff" stroke-width="1.0"/>
<circle cx="453.4" cy="151.6" r="1.8" fill="none" stroke="#4444ff" stroke-width="1.0"/>
<circle cx="456.6" cy="153.24" r="1.8" fill="none" stroke="#4444ff" stroke-width="1.0"/>
<circle cx="459.82" cy="154.85" r="1.8" fill="none" stroke="#4444ff" stroke-width="1.0"/>
<circle cx="463.06" cy="156.43" r="1.8" fill="none" stroke="#4444ff" stroke-width="1.0"/>
<circle cx="466.31" cy="157.97" r="1.8" fill="none" stroke="#4444ff" stroke-width="1.0"/>
<circle cx="469.6" cy="159.44" r="1.8" fill="none" stroke="#4444ff" stroke-width="1.0"/>
<circle cx="473.13" cy="159.75" r="1.8" fill="none" stroke="#4444ff" stroke-width="1.0"/>
<circle cx="476.66" cy="159.07" r="1.8" fill="none" stroke="#4444ff" stroke-width="1.0"/>
<circle cx="479.96" cy="157.63" r="1.8" fill="none" stroke="#4444ff" stroke-width="1.0"/>
<circle cx="483.05" cy="155.8" r="1.8" fill="none" stroke="#4444ff" stroke-width="1.0"/>
<circle cx="486.02" cy="153.76" r="1.8" fill="none" stroke="#4444ff" stroke-width="1.0"/>
<circle cx="488.86" cy="151.55" r="1.8" fill="none" stroke="#4444ff" stroke-width="1.0"/>
<circle cx="491.57" cy="149.18" r="1.8" fill="none" stroke="#4444ff" stroke-width="1.0"/>
<circle cx="494.16" cy="146.68" r="1.8" fill="none" stroke="#4444ff" stroke-width="1.0"/>
<circle cx="496.62" cy="144.05" r="1.8" fill="none" stroke="#4444ff" stroke-width="1.0"/>
<circle cx="498.94" cy="141.3" r="1.8" fill="none" stroke="#4444ff" stroke-width="1.0"/>
<circle cx="501.2" cy="138.5" r="1.8" fill="none" stroke="#4444ff" stroke-width="1.0"/>
<circle cx="503.46" cy="135.7" r="1.8" fill="none" stroke="#4444ff" stroke-width="1.0"/>
<circle cx="505.74" cy="132.91" r="1.8" fill="none" stroke="#4444ff" stroke-width="1.0"/>
<circle cx="508.02" cy="130.12" r="1.8" fill="none" stroke="#4444ff" stroke-width="1.0"/>
<circle cx="510.26" cy="127.31" r="1.8" fill="none" stroke="#4444ff" stroke-width="1.0"/>
<circle cx="512.47" cy="124.47" r="1.8" fill="none" stroke="#4444ff" stroke-width="1.0"/>
<circle cx="514.6" cy="121.57" r="1.8" fill="none" stroke="#4444ff" stroke-width="1.0"/>
<circle cx="516.47" cy="118.49" r="1.8" fill="none" stroke="#4444ff" stroke-width="1.0"/>
<circle cx="518.02" cy="115.24" r="1.8" fill="none" stroke="#4444ff" stroke-width="1.0"/>
<circle cx="519.72" cy="112.07" r="1.8" fill="none" stroke="#4444ff" stroke-width="1.0"/>
<circle cx="521.58" cy="108.98" r="1.8" fill="none" stroke="#4444ff" stroke-width="1.0"/>
<path d="M320.6,107.9 C324.2,107.9 336.8,107.72 342.2,107.9 C347.6,108.08 348.55,108.23 353,109 C357.45,109.77 363.17,110.62 368.9,112.5 C374.63,114.38 383.05,118.57 387.4,120.3 C391.75,122.03 391.32,121.45 395,122.9 C398.68,124.35 404.77,127.02 409.5,129 C414.23,130.98 419.52,133.58 423.4,134.8 C427.28,136.02 429.05,136.42 432.8,136.3 C436.55,136.18 442.02,135.07 445.9,134.1 C449.78,133.13 452.95,131.83 456.1,130.5 C459.25,129.17 461.65,127.8 464.8,126.1 C467.95,124.4 471.32,121.98 475,120.3 C478.68,118.62 482.12,117.55 486.9,116 C491.68,114.45 498.08,112.27 503.7,111 C509.32,109.73 514.97,108.88 520.6,108.4 C526.23,107.92 534.68,108.15 537.5,108.1" fill="none" stroke="#0e8c1e" stroke-width="1.8" />
<path d="M320.6,107.9 C333.83,107.9 384.27,107.88 400,107.9 C415.73,107.92 411.47,107.93 415,108 C418.53,108.07 418.47,107.83 421.2,108.3 C423.93,108.77 428.5,109.42 431.4,110.8 C434.3,112.18 436.18,114.42 438.6,116.6 C441.02,118.78 443.47,121.58 445.9,123.9 C448.33,126.22 450.77,128.07 453.2,130.5 C455.63,132.93 458.08,136.08 460.5,138.5 C462.92,140.92 465.45,143.37 467.7,145 C469.95,146.63 471.95,147.58 474,148.3 C476.05,149.02 478.17,149.25 480,149.3 C481.83,149.35 483.3,149.23 485,148.6 C486.7,147.97 488.2,147.13 490.2,145.5 C492.2,143.87 494.75,141.47 497,138.8 C499.25,136.13 501.45,132.6 503.7,129.5 C505.95,126.4 508.25,122.87 510.5,120.2 C512.75,117.53 514.95,115.27 517.2,113.5 C519.45,111.73 521.87,110.45 524,109.6 C526.13,108.75 527.75,108.65 530,108.4 C532.25,108.15 536.25,108.15 537.5,108.1" fill="none" stroke="#0e8c1e" stroke-width="1.8" />
<path d="M320.6,107.9 C324.2,107.9 336.8,107.72 342.2,107.9 C347.6,108.08 348.55,108.23 353,109 C357.45,109.77 363.17,110.62 368.9,112.5 C374.63,114.38 383.05,118.57 387.4,120.3 C391.75,122.03 391.32,121.45 395,122.9 C398.68,124.35 404.65,126.77 409.5,129 C414.35,131.23 419.25,133.75 424.1,136.3 C428.95,138.85 433.75,141.4 438.6,144.3 C443.45,147.2 449.07,151.08 453.2,153.7 C457.33,156.32 460.6,158.68 463.4,160 C466.2,161.32 467.78,161.22 470,161.6 C472.22,161.98 473.88,163.02 476.7,162.3 C479.52,161.58 483.8,160.1 486.9,157.3 C490,154.5 492.5,149.43 495.3,145.5 C498.1,141.57 500.88,137.35 503.7,133.7 C506.52,130.05 509.38,126.68 512.2,123.6 C515.02,120.52 517.8,117.45 520.6,115.2 C523.4,112.95 526.18,111.23 529,110.1 C531.82,108.97 536.08,108.68 537.5,108.4" fill="none" stroke="#d42a1a" stroke-width="1.8" />
<text x="316.6" y="111.9" font-family="Liberation Sans, sans-serif" font-size="9.6" font-weight="bold" font-style="normal" fill="#262626" text-anchor="end" >0</text>
<text x="316.9" y="135.8" font-family="Liberation Sans, sans-serif" font-size="9.6" font-weight="bold" font-style="normal" fill="#262626" text-anchor="end" >0.5</text>
<text x="316.6" y="159.7" font-family="Liberation Sans, sans-serif" font-size="9.6" font-weight="bold" font-style="normal" fill="#262626" text-anchor="end" >1</text>
<text x="321.4" y="182" font-family="Liberation Sans, sans-serif" font-size="9.2" font-weight="bold" font-style="normal" fill="#262626" text-anchor="middle" >0</text>
<text x="382.5" y="182" font-family="Liberation Sans, sans-serif" font-size="9.2" font-weight="bold" font-style="normal" fill="#262626" text-anchor="middle" >0.05</text>
<text x="443.6" y="182" font-family="Liberation Sans, sans-serif" font-size="9.2" font-weight="bold" font-style="normal" fill="#262626" text-anchor="middle" >0.1</text>
<text x="504.7" y="182" font-family="Liberation Sans, sans-serif" font-size="9.2" font-weight="bold" font-style="normal" fill="#262626" text-anchor="middle" >0.15</text>
<text x="381.8" y="196" font-family="Liberation Sans, sans-serif" font-size="10" font-weight="bold" font-style="normal" fill="#262626" text-anchor="start" textLength="93.4" lengthAdjust="spacingAndGlyphs" >Potential applied, V</text>
<text x="0" y="0" transform="translate(300.2 162.5) rotate(-90)" font-family="Liberation Sans, sans-serif" font-size="10.4" font-weight="bold" fill="#262626" textLength="48.5" lengthAdjust="spacingAndGlyphs">Current, A</text>
<text x="321.2" y="106.3" font-family="Liberation Sans, sans-serif" font-size="10.4" font-weight="normal" font-style="normal" fill="#262626" text-anchor="start" textLength="17" lengthAdjust="spacingAndGlyphs" >&#215;10</text>
<text x="338.4" y="101.9" font-family="Liberation Sans, sans-serif" font-size="7.6" font-weight="normal" font-style="normal" fill="#262626" text-anchor="start" textLength="6.6" lengthAdjust="spacingAndGlyphs" >-6</text>
<text x="324.5" y="124.9" font-family="Liberation Sans, sans-serif" font-size="14.3" font-weight="bold" font-style="normal" fill="#111" text-anchor="start" textLength="15.5" lengthAdjust="spacingAndGlyphs" >(c)</text>
<text x="326.2" y="162.8" font-family="Liberation Sans, sans-serif" font-size="9.9" font-weight="bold" font-style="normal" fill="#959595" text-anchor="start" textLength="64.3" lengthAdjust="spacingAndGlyphs" >Reduction peak</text>
<text x="423.4" y="131.3" font-family="Liberation Sans, sans-serif" font-size="10" font-weight="bold" font-style="italic" fill="#e8132d">R<tspan font-size="6.5" dy="1.8">1</tspan><tspan dy="-1.8">&#8242;</tspan></text>
<text x="472.5" y="143.8" font-family="Liberation Sans, sans-serif" font-size="10" font-weight="bold" font-style="italic" fill="#e8132d">R<tspan font-size="6.5" dy="1.8">1</tspan><tspan dy="-1.8">&#8243;</tspan></text>
<path d="M64.4,357 C64.73,355.17 65.73,349.5 66.4,346 C67.07,342.5 67.73,339.17 68.4,336 C69.07,332.83 69.75,329.92 70.4,327 C71.05,324.08 71.67,321.25 72.3,318.5 C72.93,315.75 73.55,312.92 74.2,310.5 C74.85,308.08 75.32,306.15 76.2,304 C77.08,301.85 78.37,299.35 79.5,297.6 C80.63,295.85 81.83,294.67 83,293.5 C84.17,292.33 84.8,291.87 86.5,290.6 C88.2,289.33 90.87,287.03 93.2,285.9 C95.53,284.77 97.85,284.43 100.5,283.8 C103.15,283.17 106.35,282.5 109.1,282.1 C111.85,281.7 112.47,281.8 117,281.4 C121.53,281 129.13,280.18 136.3,279.7 C143.47,279.22 152.72,278.87 160,278.5 C167.28,278.13 174.25,277.8 180,277.5 C185.75,277.2 192.08,276.83 194.5,276.7" fill="none" stroke="#222" stroke-width="1.6" stroke-dasharray="2.8 1.5"/>
<path d="M65.1,365.4 C65.33,364.12 65.9,360.18 66.5,357.7 C67.1,355.22 67.85,352.78 68.7,350.5 C69.55,348.22 70.52,346.05 71.6,344 C72.68,341.95 73.77,340.25 75.2,338.2 C76.63,336.15 78.4,333.98 80.2,331.7 C82,329.42 84.07,326.78 86,324.5 C87.93,322.22 89.97,320.1 91.8,318 C93.63,315.9 94.12,315.25 97,311.9 C99.88,308.55 105.93,301.03 109.1,297.9 C112.27,294.77 114.18,294.38 116,293.1 C117.82,291.82 118.43,291.67 120,290.2 C121.57,288.73 123.58,286.27 125.4,284.3 C127.22,282.33 129.5,279.9 130.9,278.4 C132.3,276.9 132.82,275 133.8,275.3 C134.78,275.6 135.9,278.87 136.8,280.2 C137.7,281.53 138.25,282.57 139.2,283.3 C140.15,284.03 141.5,284.28 142.5,284.6 C143.5,284.92 143.93,285.05 145.2,285.2 C146.47,285.35 148.65,285.7 150.1,285.5 C151.55,285.3 152.63,284.92 153.9,284 C155.17,283.08 156.63,281.67 157.7,280 C158.77,278.33 159.53,276.67 160.3,274 C161.07,271.33 161.72,268 162.3,264 C162.88,260 163.35,254.67 163.8,250 C164.25,245.33 164.63,239.75 165,236 C165.37,232.25 165.73,229.4 166,227.5 C166.27,225.6 166.38,224.6 166.6,224.6 C166.82,224.6 167,225.6 167.3,227.5 C167.6,229.4 168.02,232.25 168.4,236 C168.78,239.75 169.08,245.83 169.6,250 C170.12,254.17 170.68,258.08 171.5,261 C172.32,263.92 173.38,265.95 174.5,267.5 C175.62,269.05 176.62,269.63 178.2,270.3 C179.78,270.97 182.03,271.3 184,271.5 C185.97,271.7 187.33,271.63 190,271.5 C192.67,271.37 195.6,271.25 200,270.7 C204.4,270.15 210.65,269.23 216.4,268.2 C222.15,267.17 229.65,265.62 234.5,264.5 C239.35,263.38 242.83,262.18 245.5,261.5 C248.17,260.82 249.67,260.58 250.5,260.4" fill="none" stroke="#f01818" stroke-width="1.6" />
<path d="M250.5,260.4 C250.33,260.92 250.25,262.43 249.5,263.5 C248.75,264.57 247.28,265.87 246,266.8 C244.72,267.73 243.72,268.27 241.8,269.1 C239.88,269.93 238.73,270.83 234.5,271.8 C230.27,272.77 222.45,274.05 216.4,274.9 C210.35,275.75 204.27,276.27 198.2,276.9 C192.13,277.53 186.37,278.05 180,278.7 C173.63,279.35 165.83,280.05 160,280.8 C154.17,281.55 149.07,282.57 145,283.2 C140.93,283.83 138.57,284.08 135.6,284.6 C132.63,285.12 130.02,285.52 127.2,286.3 C124.38,287.08 121.72,288.1 118.7,289.3 C115.68,290.5 111.63,292.08 109.1,293.5 C106.57,294.92 104.93,296.47 103.5,297.8 C102.07,299.13 101.37,300.13 100.5,301.5 C99.63,302.87 98.93,304.17 98.3,306 C97.67,307.83 97.18,310.38 96.7,312.5 C96.22,314.62 96.1,315.75 95.4,318.7 C94.7,321.65 93.47,326.6 92.5,330.2 C91.53,333.8 90.57,337.17 89.6,340.3 C88.63,343.43 87.67,346.35 86.7,349 C85.73,351.65 84.63,354.27 83.8,356.2 C82.97,358.13 82.53,359.55 81.7,360.6 C80.87,361.65 80,362.17 78.8,362.5 C77.6,362.83 75.88,362.47 74.5,362.6 C73.12,362.73 71.67,362.98 70.5,363.3 C69.33,363.62 68.4,364.15 67.5,364.5 C66.6,364.85 65.5,365.25 65.1,365.4" fill="none" stroke="#f01818" stroke-width="1.6" />
<path d="M144.4,287.2 L147.9,285.9 L148,287.9Z" fill="#f01818" stroke="none" stroke-width="1" />
<path d="M227.0,276.4 L231.6,274.6 L231.4,276.6Z" fill="#f01818" stroke="none" stroke-width="1" />
<line x1="47.8" y1="209.7" x2="273.6" y2="209.7" stroke="#666" stroke-width="1.1" />
<line x1="273.6" y1="209.7" x2="273.6" y2="377.8" stroke="#777" stroke-width="1.0" />
<line x1="47.8" y1="209.7" x2="47.8" y2="378.3" stroke="#444" stroke-width="1.2" />
<line x1="47.3" y1="377.8" x2="274.1" y2="377.8" stroke="#333" stroke-width="1.5" />
<line x1="48" y1="377.8" x2="48" y2="380.4" stroke="#333" stroke-width="0.9" />
<line x1="48" y1="209.7" x2="48" y2="212.1" stroke="#666" stroke-width="0.8" />
<line x1="59.25" y1="377.8" x2="59.25" y2="379.4" stroke="#333" stroke-width="0.9" />
<line x1="59.25" y1="209.7" x2="59.25" y2="211.2" stroke="#666" stroke-width="0.8" />
<line x1="70.5" y1="377.8" x2="70.5" y2="380.4" stroke="#333" stroke-width="0.9" />
<line x1="70.5" y1="209.7" x2="70.5" y2="212.1" stroke="#666" stroke-width="0.8" />
<line x1="81.75" y1="377.8" x2="81.75" y2="379.4" stroke="#333" stroke-width="0.9" />
<line x1="81.75" y1="209.7" x2="81.75" y2="211.2" stroke="#666" stroke-width="0.8" />
<line x1="93" y1="377.8" x2="93" y2="380.4" stroke="#333" stroke-width="0.9" />
<line x1="93" y1="209.7" x2="93" y2="212.1" stroke="#666" stroke-width="0.8" />
<line x1="104.25" y1="377.8" x2="104.25" y2="379.4" stroke="#333" stroke-width="0.9" />
<line x1="104.25" y1="209.7" x2="104.25" y2="211.2" stroke="#666" stroke-width="0.8" />
<line x1="115.5" y1="377.8" x2="115.5" y2="380.4" stroke="#333" stroke-width="0.9" />
<line x1="115.5" y1="209.7" x2="115.5" y2="212.1" stroke="#666" stroke-width="0.8" />
<line x1="126.75" y1="377.8" x2="126.75" y2="379.4" stroke="#333" stroke-width="0.9" />
<line x1="126.75" y1="209.7" x2="126.75" y2="211.2" stroke="#666" stroke-width="0.8" />
<line x1="138" y1="377.8" x2="138" y2="380.4" stroke="#333" stroke-width="0.9" />
<line x1="138" y1="209.7" x2="138" y2="212.1" stroke="#666" stroke-width="0.8" />
<line x1="149.25" y1="377.8" x2="149.25" y2="379.4" stroke="#333" stroke-width="0.9" />
<line x1="149.25" y1="209.7" x2="149.25" y2="211.2" stroke="#666" stroke-width="0.8" />
<line x1="160.5" y1="377.8" x2="160.5" y2="380.4" stroke="#333" stroke-width="0.9" />
<line x1="160.5" y1="209.7" x2="160.5" y2="212.1" stroke="#666" stroke-width="0.8" />
<line x1="171.75" y1="377.8" x2="171.75" y2="379.4" stroke="#333" stroke-width="0.9" />
<line x1="171.75" y1="209.7" x2="171.75" y2="211.2" stroke="#666" stroke-width="0.8" />
<line x1="183" y1="377.8" x2="183" y2="380.4" stroke="#333" stroke-width="0.9" />
<line x1="183" y1="209.7" x2="183" y2="212.1" stroke="#666" stroke-width="0.8" />
<line x1="194.25" y1="377.8" x2="194.25" y2="379.4" stroke="#333" stroke-width="0.9" />
<line x1="194.25" y1="209.7" x2="194.25" y2="211.2" stroke="#666" stroke-width="0.8" />
<line x1="205.5" y1="377.8" x2="205.5" y2="380.4" stroke="#333" stroke-width="0.9" />
<line x1="205.5" y1="209.7" x2="205.5" y2="212.1" stroke="#666" stroke-width="0.8" />
<line x1="216.75" y1="377.8" x2="216.75" y2="379.4" stroke="#333" stroke-width="0.9" />
<line x1="216.75" y1="209.7" x2="216.75" y2="211.2" stroke="#666" stroke-width="0.8" />
<line x1="228" y1="377.8" x2="228" y2="380.4" stroke="#333" stroke-width="0.9" />
<line x1="228" y1="209.7" x2="228" y2="212.1" stroke="#666" stroke-width="0.8" />
<line x1="239.25" y1="377.8" x2="239.25" y2="379.4" stroke="#333" stroke-width="0.9" />
<line x1="239.25" y1="209.7" x2="239.25" y2="211.2" stroke="#666" stroke-width="0.8" />
<line x1="250.5" y1="377.8" x2="250.5" y2="380.4" stroke="#333" stroke-width="0.9" />
<line x1="250.5" y1="209.7" x2="250.5" y2="212.1" stroke="#666" stroke-width="0.8" />
<line x1="261.75" y1="377.8" x2="261.75" y2="379.4" stroke="#333" stroke-width="0.9" />
<line x1="261.75" y1="209.7" x2="261.75" y2="211.2" stroke="#666" stroke-width="0.8" />
<line x1="273" y1="377.8" x2="273" y2="380.4" stroke="#333" stroke-width="0.9" />
<line x1="273" y1="209.7" x2="273" y2="212.1" stroke="#666" stroke-width="0.8" />
<line x1="47.8" y1="373.3" x2="44.7" y2="373.3" stroke="#444" stroke-width="0.9" />
<line x1="273.6" y1="373.3" x2="271.2" y2="373.3" stroke="#777" stroke-width="0.8" />
<line x1="47.8" y1="361.62" x2="46.1" y2="361.62" stroke="#444" stroke-width="0.9" />
<line x1="273.6" y1="361.62" x2="272.1" y2="361.62" stroke="#777" stroke-width="0.8" />
<line x1="47.8" y1="349.95" x2="44.7" y2="349.95" stroke="#444" stroke-width="0.9" />
<line x1="273.6" y1="349.95" x2="271.2" y2="349.95" stroke="#777" stroke-width="0.8" />
<line x1="47.8" y1="338.27" x2="46.1" y2="338.27" stroke="#444" stroke-width="0.9" />
<line x1="273.6" y1="338.27" x2="272.1" y2="338.27" stroke="#777" stroke-width="0.8" />
<line x1="47.8" y1="326.6" x2="44.7" y2="326.6" stroke="#444" stroke-width="0.9" />
<line x1="273.6" y1="326.6" x2="271.2" y2="326.6" stroke="#777" stroke-width="0.8" />
<line x1="47.8" y1="314.92" x2="46.1" y2="314.92" stroke="#444" stroke-width="0.9" />
<line x1="273.6" y1="314.92" x2="272.1" y2="314.92" stroke="#777" stroke-width="0.8" />
<line x1="47.8" y1="303.25" x2="44.7" y2="303.25" stroke="#444" stroke-width="0.9" />
<line x1="273.6" y1="303.25" x2="271.2" y2="303.25" stroke="#777" stroke-width="0.8" />
<line x1="47.8" y1="291.57" x2="46.1" y2="291.57" stroke="#444" stroke-width="0.9" />
<line x1="273.6" y1="291.57" x2="272.1" y2="291.57" stroke="#777" stroke-width="0.8" />
<line x1="47.8" y1="279.9" x2="44.7" y2="279.9" stroke="#444" stroke-width="0.9" />
<line x1="273.6" y1="279.9" x2="271.2" y2="279.9" stroke="#777" stroke-width="0.8" />
<line x1="47.8" y1="268.22" x2="46.1" y2="268.22" stroke="#444" stroke-width="0.9" />
<line x1="273.6" y1="268.22" x2="272.1" y2="268.22" stroke="#777" stroke-width="0.8" />
<line x1="47.8" y1="256.55" x2="44.7" y2="256.55" stroke="#444" stroke-width="0.9" />
<line x1="273.6" y1="256.55" x2="271.2" y2="256.55" stroke="#777" stroke-width="0.8" />
<line x1="47.8" y1="244.87" x2="46.1" y2="244.87" stroke="#444" stroke-width="0.9" />
<line x1="273.6" y1="244.87" x2="272.1" y2="244.87" stroke="#777" stroke-width="0.8" />
<line x1="47.8" y1="233.2" x2="44.7" y2="233.2" stroke="#444" stroke-width="0.9" />
<line x1="273.6" y1="233.2" x2="271.2" y2="233.2" stroke="#777" stroke-width="0.8" />
<line x1="47.8" y1="221.52" x2="46.1" y2="221.52" stroke="#444" stroke-width="0.9" />
<line x1="273.6" y1="221.52" x2="272.1" y2="221.52" stroke="#777" stroke-width="0.8" />
<line x1="47.8" y1="209.85" x2="44.7" y2="209.85" stroke="#444" stroke-width="0.9" />
<line x1="273.6" y1="209.85" x2="271.2" y2="209.85" stroke="#777" stroke-width="0.8" />
<text x="42.2" y="212.55" font-family="Liberation Sans, sans-serif" font-size="7.6" font-weight="bold" font-style="normal" fill="#111" text-anchor="end" >15</text>
<text x="42.2" y="235.9" font-family="Liberation Sans, sans-serif" font-size="7.6" font-weight="bold" font-style="normal" fill="#111" text-anchor="end" >10</text>
<text x="42.2" y="259.25" font-family="Liberation Sans, sans-serif" font-size="7.6" font-weight="bold" font-style="normal" fill="#111" text-anchor="end" >5</text>
<text x="42.2" y="282.6" font-family="Liberation Sans, sans-serif" font-size="7.6" font-weight="bold" font-style="normal" fill="#111" text-anchor="end" >0</text>
<text x="42.2" y="305.95" font-family="Liberation Sans, sans-serif" font-size="7.6" font-weight="bold" font-style="normal" fill="#111" text-anchor="end" >-5</text>
<text x="42.2" y="329.3" font-family="Liberation Sans, sans-serif" font-size="7.6" font-weight="bold" font-style="normal" fill="#111" text-anchor="end" >-10</text>
<text x="42.2" y="352.65" font-family="Liberation Sans, sans-serif" font-size="7.6" font-weight="bold" font-style="normal" fill="#111" text-anchor="end" >-15</text>
<text x="42.2" y="376" font-family="Liberation Sans, sans-serif" font-size="7.6" font-weight="bold" font-style="normal" fill="#111" text-anchor="end" >-20</text>
<text x="48" y="389.9" font-family="Liberation Sans, sans-serif" font-size="8" font-weight="bold" font-style="normal" fill="#111" text-anchor="middle" >-0.8</text>
<text x="70.5" y="389.9" font-family="Liberation Sans, sans-serif" font-size="8" font-weight="bold" font-style="normal" fill="#111" text-anchor="middle" >-0.6</text>
<text x="93" y="389.9" font-family="Liberation Sans, sans-serif" font-size="8" font-weight="bold" font-style="normal" fill="#111" text-anchor="middle" >-0.4</text>
<text x="115.5" y="389.9" font-family="Liberation Sans, sans-serif" font-size="8" font-weight="bold" font-style="normal" fill="#111" text-anchor="middle" >-0.2</text>
<text x="138" y="389.9" font-family="Liberation Sans, sans-serif" font-size="8" font-weight="bold" font-style="normal" fill="#111" text-anchor="middle" >0.0</text>
<text x="160.5" y="389.9" font-family="Liberation Sans, sans-serif" font-size="8" font-weight="bold" font-style="normal" fill="#111" text-anchor="middle" >0.2</text>
<text x="183" y="389.9" font-family="Liberation Sans, sans-serif" font-size="8" font-weight="bold" font-style="normal" fill="#111" text-anchor="middle" >0.4</text>
<text x="205.5" y="389.9" font-family="Liberation Sans, sans-serif" font-size="8" font-weight="bold" font-style="normal" fill="#111" text-anchor="middle" >0.6</text>
<text x="228" y="389.9" font-family="Liberation Sans, sans-serif" font-size="8" font-weight="bold" font-style="normal" fill="#111" text-anchor="middle" >0.8</text>
<text x="250.5" y="389.9" font-family="Liberation Sans, sans-serif" font-size="8" font-weight="bold" font-style="normal" fill="#111" text-anchor="middle" >1.0</text>
<text x="273" y="389.9" font-family="Liberation Sans, sans-serif" font-size="8" font-weight="bold" font-style="normal" fill="#111" text-anchor="middle" >1.2</text>
<text x="112.3" y="407.7" font-family="Liberation Sans, sans-serif" font-size="12.4" font-weight="bold" font-style="normal" fill="#111" text-anchor="start" textLength="95.5" lengthAdjust="spacingAndGlyphs" >E / V (Ag/AgCl)</text>
<text x="0" y="0" transform="translate(26.4 316.6) rotate(-90)" font-family="Liberation Sans, sans-serif" font-size="11.2" font-weight="bold" fill="#111" textLength="54.3" lengthAdjust="spacingAndGlyphs">J / &#956;A/cm</text>
<text x="21.6" y="260" font-family="Liberation Sans, sans-serif" font-size="8.6" font-weight="bold" font-style="normal" fill="#111" text-anchor="start" textLength="6" lengthAdjust="spacingAndGlyphs" transform="rotate(-90 21.6 260)" >2</text>
<text x="52.9" y="226.6" font-family="Liberation Sans, sans-serif" font-size="14.6" font-weight="bold" font-style="normal" fill="#111" text-anchor="start" textLength="17.6" lengthAdjust="spacingAndGlyphs" >(d)</text>
<text x="130.8" y="234.3" font-family="Liberation Sans, sans-serif" font-size="14" font-weight="bold" font-style="normal" fill="#111" text-anchor="start" textLength="16.2" lengthAdjust="spacingAndGlyphs" >Cu</text>
<text x="128.3" y="269.6" font-family="Liberation Sans, sans-serif" font-size="6.8" font-weight="bold" font-style="normal" fill="#f01818" text-anchor="start" textLength="9.8" lengthAdjust="spacingAndGlyphs" >O1</text>
<text x="170" y="227.5" font-family="Liberation Sans, sans-serif" font-size="6.8" font-weight="bold" font-style="normal" fill="#f01818" text-anchor="start" textLength="9.7" lengthAdjust="spacingAndGlyphs" >O2</text>
<text x="145.2" y="294.7" font-family="Liberation Sans, sans-serif" font-size="6.8" font-weight="bold" font-style="normal" fill="#f01818" text-anchor="start" textLength="9.2" lengthAdjust="spacingAndGlyphs" >R1</text>
<path d="M326.6,367.4 C326.87,366.92 327.62,365.5 328.2,364.5 C328.78,363.5 328.93,362.93 330.1,361.4 C331.27,359.87 333.5,357.13 335.2,355.3 C336.9,353.47 338.67,351.82 340.3,350.4 C341.93,348.98 343.32,347.98 345,346.8 C346.68,345.62 347.9,344.7 350.4,343.3 C352.9,341.9 357.32,339.67 360,338.4 C362.68,337.13 363.2,337.13 366.5,335.7 C369.8,334.27 376.07,331.82 379.8,329.8 C383.53,327.78 386.37,325.65 388.9,323.6 C391.43,321.55 392.83,319.95 395,317.5 C397.17,315.05 399.98,311.48 401.9,308.9 C403.82,306.32 405.05,304.4 406.5,302 C407.95,299.6 409.48,297 410.6,294.5 C411.72,292 412.48,289.42 413.2,287 C413.92,284.58 414.23,283.5 414.9,280 C415.57,276.5 416.48,271 417.2,266 C417.92,261 418.6,254.67 419.2,250 C419.8,245.33 420.3,241.67 420.8,238 C421.3,234.33 421.75,230.63 422.2,228 C422.65,225.37 423.08,223.53 423.5,222.2 C423.92,220.87 424.28,220.12 424.7,220 C425.12,219.88 425.53,220.42 426,221.5 C426.47,222.58 426.85,223.6 427.5,226.5 C428.15,229.4 428.87,234.58 429.9,238.9 C430.93,243.22 432.42,248.68 433.7,252.4 C434.98,256.12 436.17,258.67 437.6,261.2 C439.03,263.73 440.9,266.1 442.3,267.6 C443.7,269.1 444.8,269.65 446,270.2 C447.2,270.75 448,270.92 449.5,270.9 C451,270.88 452.92,270.65 455,270.1 C457.08,269.55 459.5,268.43 462,267.6 C464.5,266.77 467,265.8 470,265.1 C473,264.4 475,263.92 480,263.4 C485,262.88 493.33,262.32 500,262 C506.67,261.68 513.17,261.62 520,261.5 C526.83,261.38 537.5,261.33 541,261.3" fill="none" stroke="#c8401e" stroke-width="1.75" />
<path d="M326.6,367.4 C327.18,367.2 328.7,366.5 330.1,366.2 C331.5,365.9 333.3,365.73 335,365.6 C336.7,365.47 337.73,365.43 340.3,365.4 C342.87,365.37 347.12,365.28 350.4,365.4 C353.68,365.52 357.32,366.02 360,366.1 C362.68,366.18 364.67,366.12 366.5,365.9 C368.33,365.68 369.45,365.37 371,364.8 C372.55,364.23 374.13,363.38 375.8,362.5 C377.47,361.62 379.23,360.62 381,359.5 C382.77,358.38 384.65,357.3 386.4,355.8 C388.15,354.3 389.95,352.27 391.5,350.5 C393.05,348.73 394.52,346.98 395.7,345.2 C396.88,343.42 397.72,341.6 398.6,339.8 C399.48,338 400.2,336.18 401,334.4 C401.8,332.62 402.4,331.07 403.4,329.1 C404.4,327.13 405.8,324.77 407,322.6 C408.2,320.43 409.27,318.63 410.6,316.1 C411.93,313.57 413.57,310.28 415,307.4 C416.43,304.52 417.53,301.77 419.2,298.8 C420.87,295.83 422.73,293.13 425,289.6 C427.27,286.07 430.63,280.58 432.8,277.6 C434.97,274.62 436.42,273.3 438,271.7 C439.58,270.1 441,268.97 442.3,268 C443.6,267.03 444.25,266.63 445.8,265.9 C447.35,265.17 449.68,264.18 451.6,263.6 C453.52,263.02 454.23,262.78 457.3,262.4 C460.37,262.02 466.22,261.52 470,261.3 C473.78,261.08 473.33,261.12 480,261.1 C486.67,261.08 499.83,261.17 510,261.2 C520.17,261.23 535.83,261.28 541,261.3" fill="none" stroke="#c8401e" stroke-width="1.75" />
<text x="314" y="239.6" font-family="Liberation Sans, sans-serif" font-size="11.2" font-weight="bold" font-style="normal" fill="#262626" text-anchor="end" >2</text>
<text x="314" y="265.6" font-family="Liberation Sans, sans-serif" font-size="11.2" font-weight="bold" font-style="normal" fill="#262626" text-anchor="end" >0</text>
<text x="314" y="291.6" font-family="Liberation Sans, sans-serif" font-size="11.2" font-weight="bold" font-style="normal" fill="#262626" text-anchor="end" >-2</text>
<text x="314" y="317.6" font-family="Liberation Sans, sans-serif" font-size="11.2" font-weight="bold" font-style="normal" fill="#262626" text-anchor="end" >-4</text>
<text x="314" y="343.6" font-family="Liberation Sans, sans-serif" font-size="11.2" font-weight="bold" font-style="normal" fill="#262626" text-anchor="end" >-6</text>
<text x="314" y="369.6" font-family="Liberation Sans, sans-serif" font-size="11.2" font-weight="bold" font-style="normal" fill="#262626" text-anchor="end" >-8</text>
<text x="327" y="390.6" font-family="Liberation Sans, sans-serif" font-size="11" font-weight="bold" font-style="normal" fill="#262626" text-anchor="middle" >-0.8</text>
<text x="380.2" y="390.6" font-family="Liberation Sans, sans-serif" font-size="11" font-weight="bold" font-style="normal" fill="#262626" text-anchor="middle" >-0.6</text>
<text x="433.4" y="390.6" font-family="Liberation Sans, sans-serif" font-size="11" font-weight="bold" font-style="normal" fill="#262626" text-anchor="middle" >-0.4</text>
<text x="486.6" y="390.6" font-family="Liberation Sans, sans-serif" font-size="11" font-weight="bold" font-style="normal" fill="#262626" text-anchor="middle" >-0.2</text>
<text x="539.8" y="390.6" font-family="Liberation Sans, sans-serif" font-size="11" font-weight="bold" font-style="normal" fill="#262626" text-anchor="middle" >0</text>
<text x="371.5" y="406.9" font-family="Liberation Sans, sans-serif" font-size="12" font-weight="bold" font-style="normal" fill="#262626" text-anchor="start" textLength="114.5" lengthAdjust="spacingAndGlyphs" >Potential applied, V</text>
<text x="0" y="0" transform="translate(298.4 367.6) rotate(-90)" font-family="Liberation Sans, sans-serif" font-size="12.6" font-weight="bold" fill="#262626" textLength="142" lengthAdjust="spacingAndGlyphs">Current density, mA/cm</text>
<text x="291.6" y="222.4" font-family="Liberation Sans, sans-serif" font-size="8.4" font-weight="bold" font-style="normal" fill="#262626" text-anchor="start" transform="rotate(-90 291.6 222.4)" >2</text>
<text x="324.5" y="226.8" font-family="Liberation Sans, sans-serif" font-size="14.6" font-weight="bold" font-style="normal" fill="#111" text-anchor="start" textLength="17.7" lengthAdjust="spacingAndGlyphs" >(e)</text>
<text x="407.2" y="223" font-family="Liberation Sans, sans-serif" font-size="12.8" font-weight="bold" font-style="normal" fill="#111" text-anchor="start" textLength="15.8" lengthAdjust="spacingAndGlyphs" >Pb</text>
</svg>
</body></html>
